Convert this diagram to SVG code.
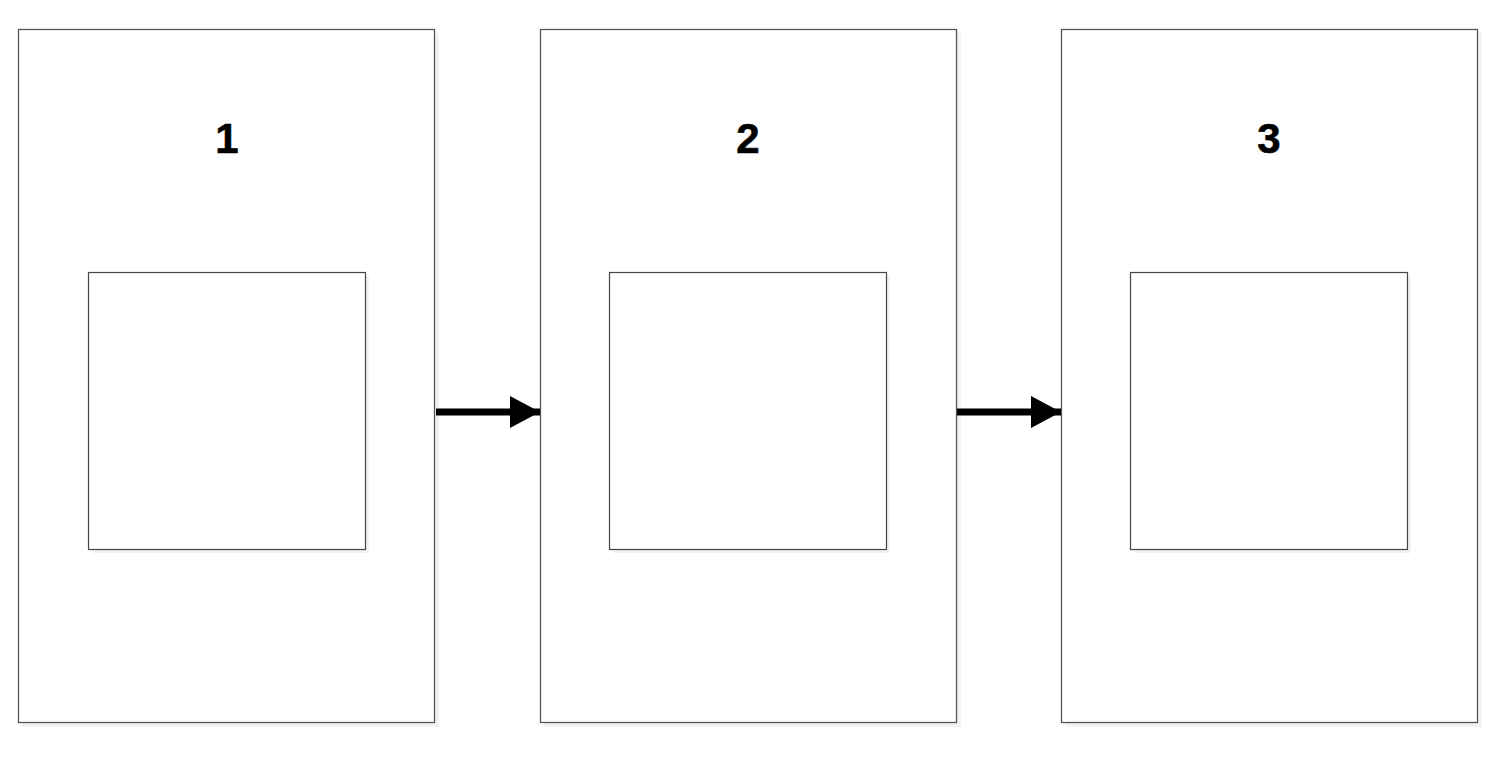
<svg xmlns="http://www.w3.org/2000/svg" width="1500" height="759" viewBox="0 0 1500 759">
<defs>
<style>
.outer{fill:#ffffff;stroke:#555555;stroke-width:1.3}
.inner{fill:#ffffff;stroke:#444444;stroke-width:1.2}
.shadow{fill:#000000;opacity:0.05}
.num{font-family:"Liberation Sans",Arial,sans-serif;font-weight:bold;font-size:42px;fill:#000000;text-anchor:middle;stroke:#000000;stroke-width:0.6}
.conn{stroke:#000000;stroke-width:7;fill:none}
</style>
<marker id="arrow" markerUnits="userSpaceOnUse" markerWidth="32" markerHeight="32" refX="30" refY="16" orient="auto" viewBox="0 0 32 32">
<path d="M0,0 L30,16 L0,32 Z" fill="#000000"/>
</marker>
</defs>
<rect width="1500" height="759" fill="#ffffff"/>
<g id="node1">
<rect class="shadow" x="22" y="33" width="417" height="694"/>
<rect class="outer" x="18.5" y="29.5" width="416" height="693"/>
<text class="num" x="227" y="153">1</text>
<rect class="shadow" x="92" y="276" width="277" height="277"/>
<rect class="inner" x="88.5" y="272.5" width="277" height="277"/>
</g>
<g id="node2">
<rect class="shadow" x="544" y="33" width="417" height="694"/>
<rect class="outer" x="540.5" y="29.5" width="416" height="693"/>
<text class="num" x="748" y="153">2</text>
<rect class="shadow" x="613" y="276" width="277" height="277"/>
<rect class="inner" x="609.5" y="272.5" width="277" height="277"/>
</g>
<g id="node3">
<rect class="shadow" x="1065" y="33" width="417" height="694"/>
<rect class="outer" x="1061.5" y="29.5" width="416" height="693"/>
<text class="num" x="1269" y="153">3</text>
<rect class="shadow" x="1134" y="276" width="277" height="277"/>
<rect class="inner" x="1130.5" y="272.5" width="277" height="277"/>
</g>
<g id="connectors">
<line class="conn" x1="436" y1="412" x2="540" y2="412" marker-end="url(#arrow)"/>
<line class="conn" x1="957" y1="412" x2="1061" y2="412" marker-end="url(#arrow)"/>
</g>
</svg>
